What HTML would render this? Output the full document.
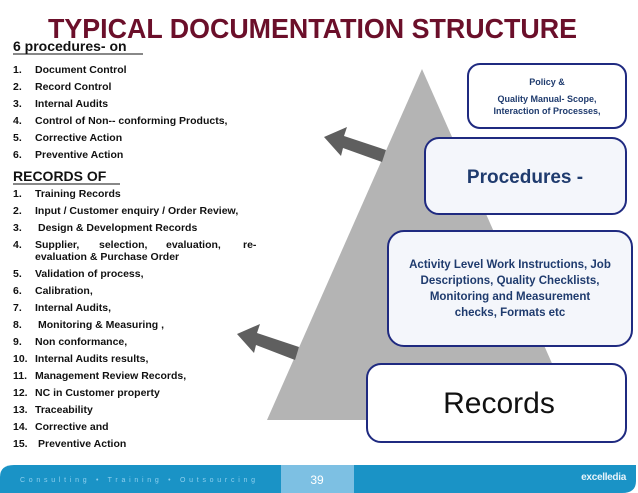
<!DOCTYPE html>
<html><head><meta charset="utf-8"><style>
html,body{margin:0;padding:0;background:#fff;}
svg{display:block;}
.l{font-family:"Liberation Sans",Arial,sans-serif;font-weight:bold;font-size:10.5px;fill:#111;}
.c{font-family:"Liberation Sans",Arial,sans-serif;font-weight:bold;fill:#1f3b6e;text-anchor:middle;}
</style></head><body>
<svg width="638" height="493" viewBox="0 0 638 493" xmlns="http://www.w3.org/2000/svg">
<rect width="638" height="493" fill="#fff"/>
<polygon points="422,69 267,420 577,420" fill="#b4b4b4"/>
<g fill="#5f5f5f">
<polygon points="386,150 344,136 347,127 324,137 341,156 343,148 382,162"/>
<polygon points="299,347 257,333 260,324 237,334 254,353 256,345 295,360"/>
</g>
<g stroke="#1f2a80" stroke-width="2">
<rect x="468" y="64" width="158" height="64" rx="12" fill="#fff"/>
<rect x="425" y="138" width="201" height="76" rx="14" fill="#f4f6fb"/>
<rect x="388" y="231" width="244" height="115" rx="16" fill="#f4f6fb"/>
<rect x="367" y="364" width="259" height="78" rx="14" fill="#fff"/>
</g>
<text class="c" x="547" y="85" font-size="9">Policy &amp;</text>
<text class="c" x="547" y="102" font-size="9">Quality Manual- Scope,</text>
<text class="c" x="547" y="114" font-size="9">Interaction of Processes,</text>
<text class="c" x="525" y="183" font-size="19" fill="#1f3b6e">Procedures -</text>
<text class="c" x="510" y="268" font-size="11.5">Activity Level Work Instructions, Job</text>
<text class="c" x="510" y="284" font-size="11.5">Descriptions,  Quality Checklists,</text>
<text class="c" x="510" y="300" font-size="11.5">Monitoring and Measurement</text>
<text class="c" x="510" y="316" font-size="11.5">checks, Formats etc</text>
<text x="499" y="413" font-size="30" text-anchor="middle" font-family="Liberation Sans,Arial,sans-serif" fill="#111">Records</text>
<text x="48" y="38" font-family="Liberation Sans,Arial,sans-serif" font-weight="bold" font-size="28" fill="#6b0f2a" textLength="529" lengthAdjust="spacingAndGlyphs">TYPICAL DOCUMENTATION STRUCTURE</text>
<text x="13" y="51" font-family="Liberation Sans,Arial,sans-serif" font-weight="bold" font-size="14" fill="#111">6 procedures- on</text>
<line x1="13" y1="54" x2="143" y2="54" stroke="#111" stroke-width="1"/>
<g class="l">
<text x="13" y="73">1.</text><text x="35" y="73">Document Control</text>
<text x="13" y="90">2.</text><text x="35" y="90">Record Control</text>
<text x="13" y="107">3.</text><text x="35" y="107">Internal Audits</text>
<text x="13" y="124">4.</text><text x="35" y="124">Control of Non-- conforming Products,</text>
<text x="13" y="141">5.</text><text x="35" y="141">Corrective Action</text>
<text x="13" y="158">6.</text><text x="35" y="158">Preventive Action</text>
</g>
<text x="13" y="181" font-family="Liberation Sans,Arial,sans-serif" font-weight="bold" font-size="14" fill="#111">RECORDS OF</text>
<line x1="13" y1="184" x2="120" y2="184" stroke="#111" stroke-width="1"/>
<g class="l">
<text x="13" y="197">1.</text><text x="35" y="197">Training Records</text>
<text x="13" y="214">2.</text><text x="35" y="214">Input / Customer enquiry / Order Review,</text>
<text x="13" y="231">3.</text><text x="38" y="231">Design &amp; Development Records</text>
<text x="13" y="248">4.</text><text x="35" y="248">Supplier,</text><text x="99" y="248">selection,</text><text x="166" y="248">evaluation,</text><text x="243" y="248">re-</text>
<text x="35" y="260">evaluation  &amp;  Purchase Order</text>
<text x="13" y="277">5.</text><text x="35" y="277">Validation of  process,</text>
<text x="13" y="294">6.</text><text x="35" y="294">Calibration,</text>
<text x="13" y="311">7.</text><text x="35" y="311">Internal Audits,</text>
<text x="13" y="328">8.</text><text x="38" y="328">Monitoring &amp; Measuring ,</text>
<text x="13" y="345">9.</text><text x="35" y="345">Non conformance,</text>
<text x="13" y="362">10.</text><text x="35" y="362">Internal Audits results,</text>
<text x="13" y="379">11.</text><text x="35" y="379">Management Review Records,</text>
<text x="13" y="396">12.</text><text x="35" y="396">NC in Customer property</text>
<text x="13" y="413">13.</text><text x="35" y="413">Traceability</text>
<text x="13" y="430">14.</text><text x="35" y="430">Corrective and</text>
<text x="13" y="447">15.</text><text x="38" y="447">Preventive Action</text>
</g>
<path d="M0,493 L0,477 Q0,465 14,465 L636,465 L636,481 Q636,493 622,493 Z" fill="#1a93c6"/>
<rect x="281" y="465" width="73" height="28" fill="#7dc0e3"/>
<text x="20" y="482" font-family="Liberation Sans,Arial,sans-serif" font-size="7" fill="#8fd0ef" textLength="235" lengthAdjust="spacing">Consulting • Training • Outsourcing</text>
<text x="317" y="484" text-anchor="middle" font-family="Liberation Sans,Arial,sans-serif" font-size="12" fill="#fff">39</text>
<text x="626" y="480" text-anchor="end" font-family="Liberation Sans,Arial,sans-serif" font-weight="bold" font-size="10" fill="#e8f4fb" letter-spacing="-0.3">excelledia</text>
</svg>
</body></html>
